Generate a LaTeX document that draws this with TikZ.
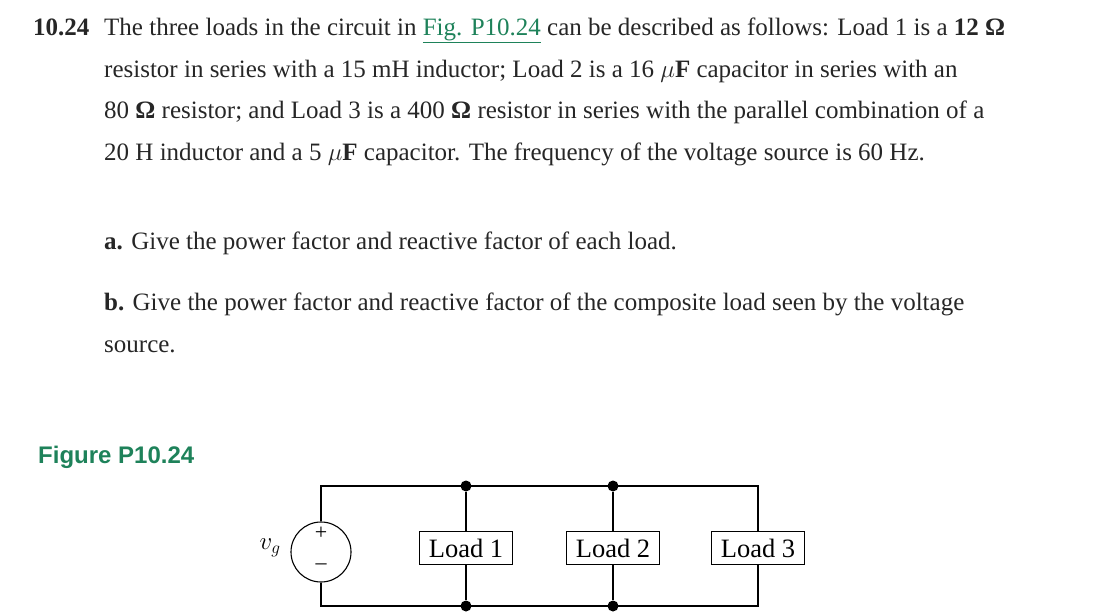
\documentclass[tikz,border=0pt]{standalone}
\usepackage{fontspec}
\setmainfont{Liberation Serif}
\newfontfamily\figfont{Liberation Sans}
\definecolor{figgreen}{RGB}{30,130,90}
\begin{document}
\begin{tikzpicture}[x=1pt,y=-1pt,
  txt/.style={anchor=base west,inner sep=0pt,font=\fontsize{25}{29}\selectfont,text=black!85},
  loadbox/.style={draw,line width=1.1pt,minimum width=93,minimum height=33,inner sep=0pt,font=\fontsize{26.5}{28}\selectfont},
  wire/.style={line width=1.1pt},
  dot/.style={circle,fill,inner sep=0pt,minimum size=11}]
\useasboundingbox (0,0) rectangle (1096,616);
\node[txt] (n0) at (33,35) {\textbf{10.24}};
\node[txt] (l1) at (104,35) {The three loads in the circuit in \textcolor{figgreen}{\underline{Fig. P10.24}} can be described as follows: Load 1 is a \textbf{12 Ω}};
\node[txt] (l2) at (104,77) {resistor in series with a 15 mH inductor; Load 2 is a 16 $\mu$\textbf{F} capacitor in series with an};
\node[txt] (l3) at (104,118) {80 \textbf{Ω} resistor; and Load 3 is a 400 \textbf{Ω} resistor in series with the parallel combination of a};
\node[txt] (l4) at (104,160) {20 H inductor and a 5 $\mu$\textbf{F} capacitor. The frequency of the voltage source is 60 Hz.};
\node[txt] (la) at (104,249) {\textbf{a.} Give the power factor and reactive factor of each load.};
\node[txt] (lb) at (104,310) {\textbf{b.} Give the power factor and reactive factor of the composite load seen by the voltage};
\node[txt] (lc) at (104,352) {source.};
\node[anchor=base west,inner sep=0pt,font=\figfont\bfseries\fontsize{24}{28}\selectfont,text=figgreen] (fig) at (38,463) {Figure P10.24};
% circuit
\coordinate (tl) at (321,486); \coordinate (bl) at (321,606);
\coordinate (tr) at (758,486); \coordinate (br) at (758,606);
\node[draw,circle,line width=1.1pt,minimum size=60,inner sep=0pt] (src) at (321,552) {};
\node[font=\fontsize{22}{24}\selectfont] (plus) at (321,533) {+};
\node[font=\fontsize{22}{24}\selectfont] (minus) at (321,567) {\textendash};
\node[font=\fontsize{27}{29}\selectfont] (vg) at (270,548) {$v_g$};
\node[loadbox] (L1) at (466,548) {Load 1};
\node[loadbox] (L2) at (613,548) {Load 2};
\node[loadbox] (L3) at (758,548) {Load 3};
\node[dot] (t1) at (466,486) {}; \node[dot] (t2) at (613,486) {};
\node[dot] (b1) at (466,606) {}; \node[dot] (b2) at (613,606) {};
\draw[wire] (src.north) -- (tl) -- (tr) -- (L3.north);
\draw[wire] (src.south) -- (bl) -- (br) -- (L3.south);
\draw[wire] (t1) -- (L1.north) (L1.south) -- (b1);
\draw[wire] (t2) -- (L2.north) (L2.south) -- (b2);
\end{tikzpicture}
\end{document}
